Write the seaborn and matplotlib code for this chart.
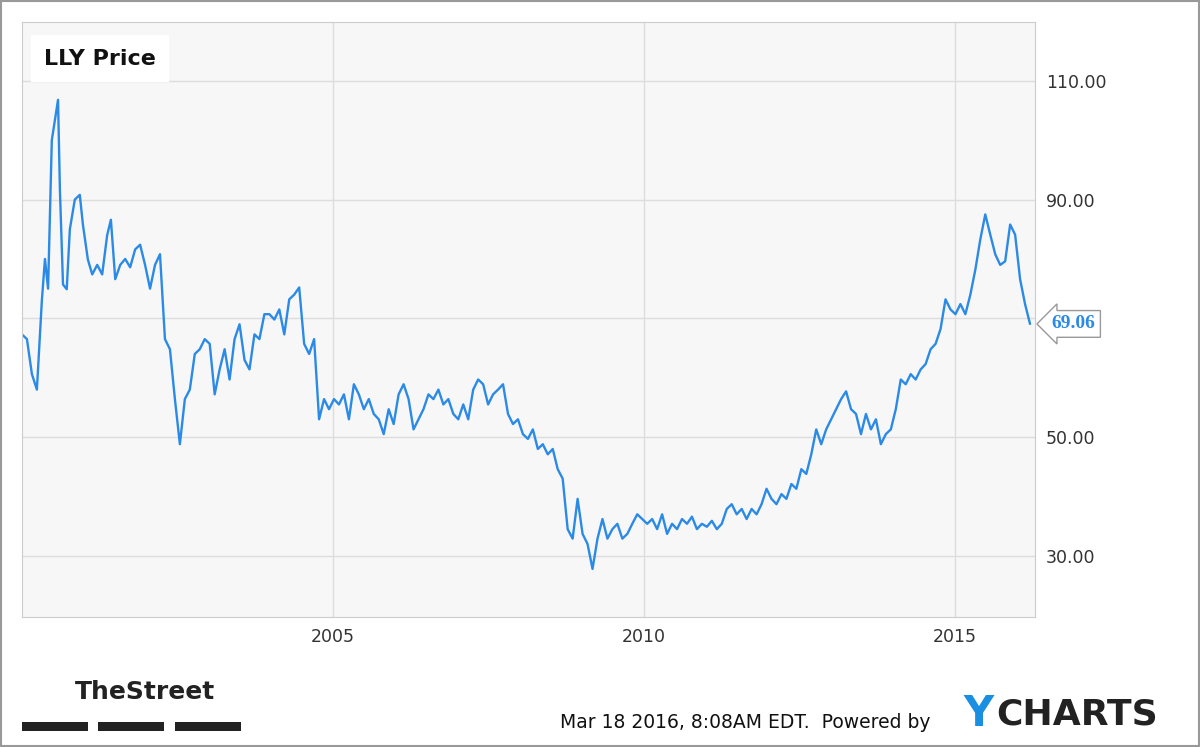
import numpy as np
import matplotlib.pyplot as plt
import seaborn as sns
from matplotlib.patches import Rectangle

# early part read at irregular spots
early_years = [2000.00, 2000.08, 2000.16, 2000.24, 2000.32, 2000.37, 2000.42, 2000.48,
               2000.53, 2000.58, 2000.61, 2000.66, 2000.72, 2000.77, 2000.85, 2000.93,
               2000.98, 2001.06, 2001.13, 2001.21, 2001.29, 2001.37, 2001.43, 2001.50]
early_prices = [67.3, 66.5, 60.6, 58.0, 73.0, 80.0, 75.0, 100.0,
                103.4, 106.8, 91.7, 75.7, 74.9, 85.0, 90.0, 90.8,
                85.8, 79.9, 77.4, 79.0, 77.4, 84.0, 86.6, 76.6]
# rest read at about one point per month
late_prices = [79.0, 80.0, 78.6, 81.6, 82.4, 79.0, 75.0, 79.0, 80.8, 66.5,
               64.8, 56.4, 48.8, 56.4, 58.0, 64.0, 64.8, 66.5, 65.7, 57.2,
               61.4, 64.8, 59.7, 66.5, 69.0, 63.0, 61.4, 67.3, 66.5, 70.7,
               70.7, 69.8, 71.5, 67.3, 73.2, 74.0, 75.2, 65.7, 64.0, 66.5,
               53.0, 56.4, 54.7, 56.4, 55.5, 57.2, 53.0, 58.9, 57.2, 54.7,
               56.4, 53.9, 53.0, 50.5, 54.7, 52.2, 57.2, 58.9, 56.4, 51.3,
               53.0, 54.7, 57.2, 56.4, 58.0, 55.5, 56.4, 53.9, 53.0, 55.5,
               53.0, 58.0, 59.7, 58.9, 55.5, 57.2, 58.0, 58.9, 53.9, 52.2,
               53.0, 50.5, 49.7, 51.3, 48.0, 48.8, 47.1, 48.0, 44.6, 43.0,
               34.5, 32.9, 39.6, 33.7, 32.0, 27.8, 32.9, 36.2, 32.9, 34.5,
               35.4, 32.9, 33.7, 35.4, 37.0, 36.2, 35.4, 36.2, 34.5, 37.0,
               33.7, 35.4, 34.5, 36.2, 35.4, 36.6, 34.5, 35.4, 34.9, 35.9,
               34.5, 35.4, 37.9, 38.7, 37.0, 37.9, 36.2, 37.9, 37.0, 38.7,
               41.3, 39.6, 38.7, 40.4, 39.6, 42.1, 41.3, 44.6, 43.8, 47.1,
               51.3, 48.8, 51.3, 53.0, 54.7, 56.4, 57.7, 54.7, 53.9, 50.5,
               53.9, 51.3, 53.0, 48.8, 50.5, 51.3, 54.7, 59.7, 58.9, 60.6,
               59.7, 61.4, 62.3, 64.8, 65.7, 68.2, 73.2, 71.5, 70.7, 72.4,
               70.7, 74.0, 78.2, 83.3, 87.5, 84.1, 80.8, 79.0, 79.6, 85.8,
               84.1, 76.6, 72.4, 69.06]
late_years = np.linspace(2001.58, 2016.21, len(late_prices))

years = np.concatenate([early_years, late_years])
prices = np.concatenate([early_prices, late_prices])
last_price = 69.06
blue = '#2b8ae6'

sns.set_style('white')
plt.rcParams['font.family'] = ['DejaVu Sans']

fig = plt.figure(figsize=(12, 7.47), dpi=100)
ax = fig.add_axes([0.0183, 0.174, 0.8442, 0.7965])
ax.set_facecolor('#f7f7f7')
sns.lineplot(x=years, y=prices, ax=ax, color=blue, linewidth=1.7)

ax.set_xlim(2000.0, 2016.29)
ax.set_ylim(19.7, 119.9)
ax.set_xticks([2005, 2010, 2015])
ax.set_yticks([30, 50, 70, 90, 110])
ax.set_yticklabels(['30.00', '50.00', '', '90.00', '110.00'])
ax.yaxis.tick_right()
ax.tick_params(length=0, labelsize=12.5, colors='#333333', pad=8)
ax.grid(True, color='#dddddd', linewidth=1)
for s in ax.spines.values():
    s.set_color('#cccccc')
ax.set_xlabel('')
ax.set_ylabel('')

# title box
ax.text(0.022, 0.955, 'LLY Price', transform=ax.transAxes, fontsize=16, fontweight='bold',
        va='top', ha='left', color='#111111',
        bbox=dict(boxstyle='square,pad=0.6', fc='white', ec='none'))

# last price label
ax.annotate(f'{last_price:.2f}', xy=(1.0, last_price), xycoords=('axes fraction', 'data'),
            xytext=(12, 0), textcoords='offset points', va='center', ha='left',
            fontsize=14, fontweight='bold', color=blue, family='Liberation Serif',
            bbox=dict(boxstyle='larrow,pad=0.25', fc='white', ec='#999999'),
            annotation_clip=False)

# outer border
fig.patches.append(Rectangle((0.001, 0.001), 0.998, 0.998, transform=fig.transFigure,
                             fill=False, ec='#999999', lw=1.5))

# footer
fig.text(0.062, 0.058, 'TheStreet', fontsize=18, fontweight='bold', color='#222222',
         ha='left', va='bottom', family='Liberation Sans Narrow')
for x0 in [0.018, 0.082, 0.146]:
    fig.patches.append(Rectangle((x0, 0.022), 0.055, 0.011, transform=fig.transFigure,
                                 fc='#222222', ec='none'))
fig.text(0.467, 0.033, 'Mar 18 2016, 8:08AM EDT.  Powered by', fontsize=13.5,
         color='#111111', ha='left', va='center')
fig.text(0.803, 0.044, 'Y', fontsize=30, fontweight='bold', color='#1a8ee0',
         ha='left', va='center')
fig.text(0.830, 0.044, 'CHARTS', fontsize=26, fontweight='bold', color='#222222',
         ha='left', va='center')

fig.savefig('out.png', dpi=100)
